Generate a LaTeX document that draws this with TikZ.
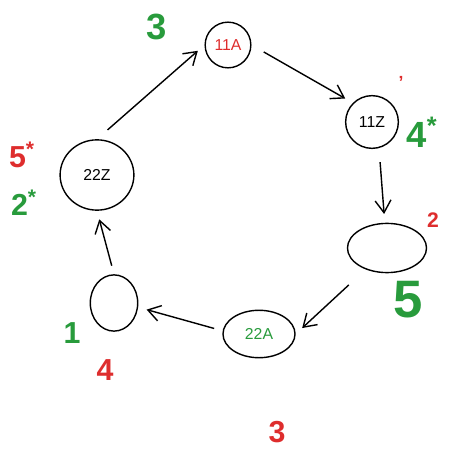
\documentclass[tikz,border=0pt]{standalone}
\usepackage{fontspec}
\setmainfont{Liberation Sans}
\usetikzlibrary{shapes.geometric,arrows.meta}
\definecolor{inkred}{RGB}{222,45,45}
\definecolor{inkgreen}{RGB}{40,155,60}

\begin{document}
\begin{tikzpicture}
[x=0.02cm, y=-0.02cm,
 state/.style={draw, ellipse, thick, inner sep=0pt, font=\small},
 link/.style={thick, -{Straight Barb[length=7pt,width=9pt]}, shorten <=8pt, shorten >=5pt},
 digit/.style={font=\bfseries\LARGE}]

\useasboundingbox (0,0) rectangle (474,456);

% states
\node[state, minimum width=26pt, minimum height=26pt, text=inkred] (11A) at (228,45) {11A};
\node[state, minimum width=30pt, minimum height=30pt] (11Z) at (372,122) {11Z};
\node[state, minimum width=45pt, minimum height=28pt] (e) at (387,248) {};
\node[state, minimum width=41pt, minimum height=27pt, text=inkgreen] (22A) at (259,334) {22A};
\node[state, minimum width=27pt, minimum height=32pt] (c) at (114,303) {};
\node[state, minimum width=42pt, minimum height=40pt] (22Z) at (97,175) {22Z};

% cycle
\draw[link] (22Z.north) -- (11A.west);
\draw[link] (11A.east) -- (11Z.135);
\draw[link] (11Z.-75) -- (e.95);
\draw[link, shorten <=13pt] (e.225) -- (22A.east);
\draw[link, shorten <=5pt] (22A.175) -- (c.-10);
\draw[link, shorten <=5pt] (c.north) -- (22Z.south);

% numbers
\node[digit, text=inkgreen, font=\bfseries\huge] (n3) at (157,27) {3};
\node[text=inkred, font=\bfseries] (tick) at (401,82) {'};
\node[digit, text=inkgreen, font=\bfseries\huge] (n4) at (422,132) {4\textsuperscript{*}};
\node[text=inkred, font=\bfseries\large] (n2) at (433,220) {2};
\node[text=inkgreen, font=\bfseries\fontsize{30}{30}\selectfont] (n5) at (408,300) {5};
\node[digit, text=inkred] (n5s) at (22,155) {5\textsuperscript{*}};
\node[digit, text=inkgreen] (n2s) at (24,203) {2\textsuperscript{*}};
\node[digit, text=inkgreen] (n1) at (72,333) {1};
\node[digit, text=inkred] (n4b) at (105,370) {4};
\node[digit, text=inkred] (n3b) at (277,432) {3};
\end{tikzpicture}
\end{document}
